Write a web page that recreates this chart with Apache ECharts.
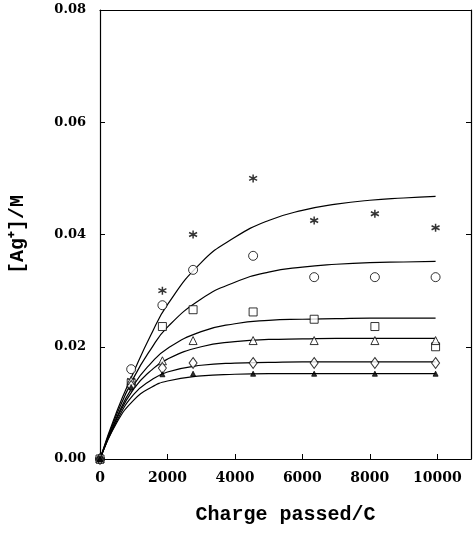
<!DOCTYPE html><html><head><meta charset="utf-8"><script src="https://cdn.jsdelivr.net/npm/echarts@6/dist/echarts.min.js"></script></head><body style="margin:0;background:#fff"><div id="c" style="width:474px;height:541px"></div><script>
const px=[0,925,1850,2760,4540,6350,8150,9950];
const stars=[0,0.0140,0.0300,0.0400,0.0500,0.0425,0.0437,0.0412];
const circles=[0,0.0160,0.0274,0.0337,0.0362,0.0324,0.0324,0.0324];
const squares=[0,0.0135,0.0236,0.0266,0.0262,0.0249,0.0236,0.0200];
const triOpen=[0,0.0140,0.0175,0.0211,0.0211,0.0211,0.0211,0.0211];
const diamonds=[0,0.0130,0.0162,0.0171,0.0171,0.0171,0.0171,0.0171];
const triFill=[0,0.0128,0.0151,0.0152,0.0152,0.0152,0.0152,0.0152];
const cx=[0,500,1000,1500,2000,3000,4000,5000,6000,7000,8000,9000,9950];
const curves=[
[0,0.0085,0.0155,0.0220,0.0275,0.0350,0.0395,0.0425,0.0443,0.0454,0.0461,0.0465,0.0468],
[0,0.0080,0.0145,0.0195,0.0235,0.0285,0.0315,0.0333,0.0342,0.0347,0.0350,0.0351,0.0352],
[0,0.0075,0.0132,0.0170,0.0197,0.0227,0.0241,0.0247,0.0249,0.0250,0.0251,0.0251,0.0251],
[0,0.0072,0.0125,0.0157,0.0178,0.0200,0.0209,0.0213,0.0214,0.0215,0.0215,0.0215,0.0215],
[0,0.0068,0.0115,0.0140,0.0155,0.0167,0.0171,0.0172,0.0173,0.0173,0.0173,0.0173,0.0173],
[0,0.0065,0.0105,0.0127,0.0139,0.0148,0.0151,0.0152,0.0152,0.0152,0.0152,0.0152,0.0152]];
const star='path://M0,-10L0,10M-8.7,-5L8.7,5M-8.7,5L8.7,-5';
const F='DejaVu Serif';
const ch=echarts.init(document.getElementById('c'));
const pts=(d)=>px.map((x,i)=>[x,d[i]]);
const sc=(d,sym,size,fill)=>({type:'scatter',data:pts(d),symbol:sym,symbolSize:size,z:3,
 itemStyle:{color:fill?'#000':'#fff',borderColor:'#000',borderWidth:1}});
const series=curves.map(c=>({type:'line',smooth:0.5,showSymbol:false,data:cx.map((x,i)=>[x,c[i]]),lineStyle:{color:'#000',width:1.2}}));
series.push(
 {type:'scatter',data:pts(stars),symbol:star,symbolSize:8,itemStyle:{color:'#000',borderColor:'#000',borderWidth:1.5}},
 sc(circles,'circle',9,false),sc(squares,'rect',8,false),sc(triOpen,'triangle',8,false),
 sc(diamonds,'diamond',[8,11],false),sc(triFill,'triangle',5,true),
 {type:'scatter',data:[[0,0]],symbol:'circle',symbolSize:7,itemStyle:{color:'#000'},z:5});
const ax={axisLine:{onZero:false,lineStyle:{color:'#000',width:1.2}},axisTick:{inside:true,length:5,lineStyle:{color:'#000'}},splitLine:{show:false}};
ch.setOption({animation:false,
 grid:{left:100,right:3,top:10,bottom:82},
 xAxis:[{...ax,type:'value',min:0,max:11000,interval:2000,
  axisLabel:{fontFamily:F,fontWeight:'bold',fontSize:14,color:'#000',margin:12,formatter:v=>v>10000?'':v},
  name:'Charge passed/C',nameLocation:'middle',nameGap:46,nameTextStyle:{fontFamily:'Liberation Mono',fontSize:20,fontWeight:'bold',color:'#000'}},
  {...ax,type:'value',position:'top',min:0,max:11000,interval:2000,axisLabel:{show:false},axisTick:{show:false}}],
 yAxis:[{...ax,type:'value',min:0,max:0.08,interval:0.02,
  axisLabel:{fontFamily:F,fontWeight:'bold',fontSize:13,color:'#000',margin:14,formatter:v=>v.toFixed(2)},
  name:'[Ag⁺]/M',nameLocation:'middle',nameGap:72,nameTextStyle:{fontFamily:'Liberation Mono',fontSize:20,fontWeight:'bold',color:'#000'}},
  {...ax,type:'value',position:'right',min:0,max:0.08,interval:0.02,axisLabel:{show:false}}],
 series});
</script></body></html>
